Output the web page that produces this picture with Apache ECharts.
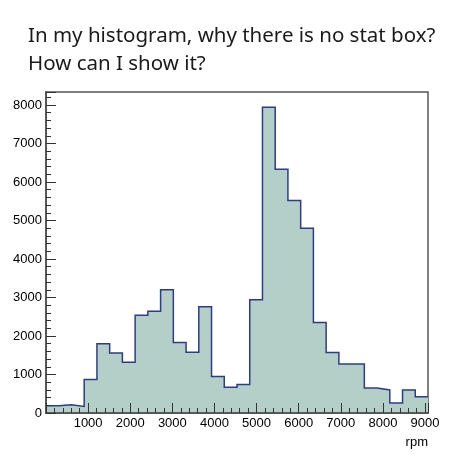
<!DOCTYPE html>
<html>
<head>
<meta charset="utf-8">
<script src="https://cdn.jsdelivr.net/npm/echarts@6/dist/echarts.min.js"></script>
<style>
  html, body { margin: 0; padding: 0; background: #fff; }
  #main { width: 474px; height: 455px; }
</style>
</head>
<body>
<div id="main"></div>
<script>
// histogram range and bin contents (30 bins)
var xMin = 0;
var xMax = 9070;
var counts = [190, 215, 170, 870, 1800, 1560, 1320, 2540, 2640, 3200,
              1830, 1580, 2760, 950, 670, 740, 2940, 7940, 6330, 5520,
              4800, 2350, 1570, 1270, 1270, 650, 600, 260, 600, 420];
var titleLines = ['In my histogram, why there is no stat box?', 'How can I show it?'];
var xTitle = 'rpm';

var chart = echarts.init(document.getElementById('main'));

// outline of the histogram: each bin gives its left and right corner
var binW = (xMax - xMin) / counts.length;
var outline = [];
counts.forEach(function (c, i) {
    outline.push([xMin + i * binW, c]);
    outline.push([xMin + (i + 1) * binW, c]);
});

// ROOT sets the maximum 5% above the highest bin
var yMax = Math.round(Math.max.apply(null, counts) * 1.05);

var tickFont = { fontFamily: 'Liberation Sans', fontSize: 13, color: '#000' };
var plain = function (v) { return String(v); };

var option = {
    backgroundColor: '#fff',
    animation: false,
    title: {
        text: titleLines.join('\n'),
        left: 23,
        top: 17,
        textStyle: {
            fontFamily: 'Noto Sans',
            fontWeight: 'normal',
            fontSize: 20.5,
            lineHeight: 28,
            color: '#1a1a1a'
        }
    },
    grid: {
        left: 46,
        right: 46,
        top: 92,
        bottom: 42,
        show: true,
        borderColor: '#555',
        borderWidth: 1.5,
        backgroundColor: '#fff'
    },
    xAxis: [{
        type: 'value',
        min: xMin,
        max: xMax,
        interval: 1000,
        z: 5,
        name: xTitle,
        nameLocation: 'end',
        nameGap: 0,
        nameTextStyle: {
            fontFamily: 'Liberation Sans',
            fontSize: 13,
            color: '#000',
            align: 'right',
            verticalAlign: 'top',
            padding: [23, 0, 0, 0]
        },
        axisLine: { show: true, lineStyle: { color: '#555', width: 1.5 } },
        axisTick: { show: true, inside: true, length: 10, lineStyle: { color: '#333' } },
        minorTick: { show: true, splitNumber: 5, length: 5, lineStyle: { color: '#333' } },
        axisLabel: Object.assign({ margin: 4, showMaxLabel: false,
            formatter: function (v) { return v === 0 ? '' : String(v); } }, tickFont),
        splitLine: { show: false }
    }, {
        type: 'value',
        position: 'top',
        min: xMin,
        max: xMax,
        z: 5,
        axisLine: { show: true, lineStyle: { color: '#555', width: 1.5 } },
        axisTick: { show: false },
        axisLabel: { show: false },
        splitLine: { show: false }
    }],
    yAxis: [{
        type: 'value',
        min: 0,
        max: yMax,
        interval: 1000,
        z: 5,
        axisLine: { show: true, lineStyle: { color: '#555', width: 1.5 } },
        axisTick: { show: true, inside: true, length: 10, lineStyle: { color: '#333' } },
        minorTick: { show: true, splitNumber: 5, length: 5, lineStyle: { color: '#333' } },
        axisLabel: Object.assign({ margin: 4, showMaxLabel: false, formatter: plain }, tickFont),
        splitLine: { show: false }
    }, {
        type: 'value',
        position: 'right',
        min: 0,
        max: yMax,
        z: 5,
        axisLine: { show: true, lineStyle: { color: '#555', width: 1.5 } },
        axisTick: { show: false },
        axisLabel: { show: false },
        splitLine: { show: false }
    }],
    series: [{
        type: 'line',
        data: outline,
        symbol: 'none',
        z: 2,
        lineStyle: { color: '#2e3b8c', width: 1.5, join: 'miter' },
        areaStyle: { color: '#b3cfc7', opacity: 1 }
    }]
};

chart.setOption(option);
</script>
</body>
</html>
